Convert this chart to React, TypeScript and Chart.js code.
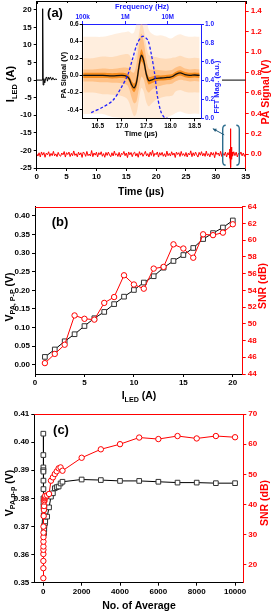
import React, { useEffect, useRef } from 'react';
import { Chart, registerables } from 'chart.js';

Chart.register(...registerables);

const FONT = '"Liberation Sans", Arial, Helvetica, sans-serif';
const RED = '#ff0000';
const BLUE = '#2020ff';
const BLACK = '#000000';
const TEAL = '#2c6d8e';

// ---------------- Panel (a): main traces ----------------
const A_X_TICKS = [0, 5, 10, 15, 20, 25, 30, 35];
const A_ILED_TICKS = [-25, -20, -15, -10, -5, 0, 5, 10, 15, 20];
const A_PA_TICKS = [0, 0.2, 0.4, 0.6, 0.8, 1.0, 1.2, 1.4];

const A_ILED_TIME = [0, 0.95, 1.0, 1.08, 1.2, 1.35, 1.5, 1.65, 1.8, 1.95, 2.1, 2.3, 2.5, 2.7, 2.9, 3.2, 3.6, 35];
const A_ILED_AMP = [0, 0, 20.3, -1.4, 0.4, -0.8, 0.5, 0.9, -0.3, 0.8, 0.2, 0.9, 0.0, 0.7, 0.1, 0.3, 0, 0];

const A_PA_STEP = 0.2; // µs between noise samples
const A_PA_NOISE_MV = [
  6, -18, 14, -27, 22, -9, 17, -30, 10, -5, 24, -21, 8, -14, 28, -16, 3, -24, 18, -11,
  -20, 12, -6, 26, -28, 15, -3, 21, -23, 9, -15, 32, -12, 5, -26, 20, -8, 14, -31, 22,
  9, -21, 27, -14, 2, -18, 36, -24, 12, -9, 20, -27, 15, -5, 24, -20, 6, -30, 17, -12,
  21, -8, -25, 14, -17, 30, -10, 5, -22, 18, -28, 9, -3, 27, -15, 12, -33, 22, -6, 17,
  -24, 10, 20, -18, 8, -30, 25, -9, 14, -21, 3, 28, -17, 6, -27, 20, -12, 38, -22, 9,
  -5, 22, -28, 15, -10, 18, -20, 5, -25, 30, -14, 8, -18, 24, -9, 12, -32, 21, -3, 15,
  -22, 27, -12, 6, -20, 17, -27, 10, -8, 33, -24, 14, -15, 21, -6, -28, 18, -10, 25, -17,
  9, -21, 30, -14, 5, -26, 20, -9, 15, -34, 24, -3, 12, -18, 28, -22, 8, -12, 21, -27,
  14, -8,
];
const A_PA_BURST_TIME = [32.25, 32.3, 32.35, 32.4, 32.45, 32.5, 32.55, 32.6, 32.65, 32.7, 32.75];
const A_PA_BURST_V = [0.02, -0.04, 0.05, -0.06, 0.25, -0.13, 0.07, -0.05, 0.03, -0.03, 0.02];
const A_PA_TAIL_START = 32.8;
const A_PA_TAIL_MV = [-18, 24, -14, 20, -27, 11, -6, 22, -16, 12, -21, 8];

// bracket / arrow annotation (data units: µs, V)
const A_BRACKET_T = [31.15, 33.93];
const A_BRACKET_V = [0.283, -0.107];
const A_ARROW_FROM = [31.4, 0.19];
const A_ARROW_TO = [29.5, 0.25];

// ---------------- Panel (a): inset ----------------
const IN_X_TICKS = [16.5, 17.0, 17.5, 18.0, 18.5];
const IN_Y_TICKS = [-0.4, -0.2, 0, 0.2, 0.4, 0.6];
const IN_FFT_TICKS = [0, 0.2, 0.4, 0.6, 0.8, 1.0];
const IN_FREQ_TICKS = [1e5, 1e6, 1e7];
const IN_FREQ_LABELS = ['100k', '1M', '10M'];

const IN_TIME = [16.2, 16.4, 16.6, 16.8, 17.0, 17.1, 17.15, 17.2, 17.25, 17.3, 17.35, 17.4, 17.45, 17.5, 17.55, 17.6, 17.7, 17.8, 17.9, 18.0, 18.05, 18.1, 18.2, 18.3, 18.4, 18.5, 18.6];
const IN_MEAN = [0, 0, 0, -0.005, 0, -0.01, -0.04, -0.11, -0.145, -0.08, 0.1, 0.235, 0.17, 0.02, -0.06, -0.055, -0.035, -0.03, -0.025, -0.02, -0.01, 0.01, 0.03, 0.01, 0, 0.005, 0];
const IN_SPREAD_OUTER = [0.45, 0.45, 0.45, 0.48, 0.5, 0.52, 0.55, 0.6, 0.65, 0.7, 0.75, 0.75, 0.7, 0.65, 0.6, 0.55, 0.5, 0.5, 0.48, 0.45, 0.45, 0.45, 0.45, 0.45, 0.45, 0.45, 0.45];
const IN_SPREAD_WIDE = [0.2, 0.2, 0.22, 0.22, 0.24, 0.26, 0.28, 0.3, 0.33, 0.36, 0.38, 0.38, 0.36, 0.33, 0.3, 0.28, 0.25, 0.23, 0.22, 0.22, 0.22, 0.2, 0.2, 0.2, 0.2, 0.2, 0.2];
const IN_SPREAD_MID = [0.07, 0.07, 0.08, 0.08, 0.09, 0.1, 0.12, 0.15, 0.18, 0.22, 0.25, 0.25, 0.22, 0.18, 0.14, 0.12, 0.1, 0.09, 0.08, 0.08, 0.08, 0.08, 0.08, 0.07, 0.07, 0.07, 0.07];
const IN_SPREAD_CORE = [0.03, 0.03, 0.03, 0.03, 0.03, 0.03, 0.035, 0.045, 0.05, 0.06, 0.07, 0.07, 0.06, 0.05, 0.045, 0.04, 0.035, 0.03, 0.03, 0.03, 0.03, 0.03, 0.03, 0.03, 0.03, 0.03, 0.03];

const IN_FFT_FREQ = [1.58e5, 2.95e5, 5.13e5, 7.94e5, 1.15e6, 1.51e6, 1.95e6, 2.57e6, 3.39e6, 4.07e6, 4.9e6, 5.75e6, 6.92e6, 8.3e6, 1.0e7];
const IN_FFT_MAG = [0.06, 0.117, 0.19, 0.32, 0.46, 0.64, 0.8, 0.87, 0.83, 0.69, 0.48, 0.23, 0.07, 0.01, 0.0];

// ---------------- Panel (b) ----------------
const B_X_TICKS = [0, 5, 10, 15, 20];
const B_V_TICKS = [0, 0.05, 0.1, 0.15, 0.2, 0.25, 0.3, 0.35, 0.4];
const B_SNR_TICKS = [44, 46, 48, 50, 52, 54, 56, 58, 60, 62, 64];
const B_ILED = [1, 2, 3, 4, 5, 6, 7, 8, 9, 10, 11, 12, 13, 14, 15, 16, 17, 18, 19, 20];
const B_VPP = [0.021, 0.041, 0.063, 0.082, 0.104, 0.125, 0.142, 0.163, 0.183, 0.201, 0.221, 0.238, 0.261, 0.279, 0.295, 0.314, 0.338, 0.354, 0.369, 0.388];
const B_SNR = [45.3, 46.4, 47.5, 51.0, 50.6, 50.5, 52.5, 53.2, 55.8, 54.7, 54.2, 56.6, 56.8, 59.5, 59.0, 57.9, 60.7, 60.6, 60.9, 61.9];

// ---------------- Panel (c) ----------------
const C_X_TICKS = [0, 2000, 4000, 6000, 8000, 10000];
const C_V_TICKS = [0.35, 0.36, 0.37, 0.38, 0.39, 0.4, 0.41];
const C_SNR_TICKS = [20, 30, 40, 50, 60, 70];
const C_N = [1, 2, 3, 4, 5, 6, 7, 8, 9, 10, 20, 30, 40, 50, 60, 70, 80, 90, 100, 200, 300, 400, 500, 600, 700, 800, 900, 1000, 2000, 3000, 4000, 5000, 6000, 7000, 8000, 9000, 10000];
const C_VPP = [0.403, 0.3954, 0.391, 0.39, 0.3895, 0.3863, 0.3833, 0.38, 0.3785, 0.377, 0.374, 0.37, 0.3676, 0.369, 0.3705, 0.3715, 0.372, 0.3712, 0.3718, 0.3735, 0.3768, 0.3806, 0.3818, 0.3836, 0.384, 0.3842, 0.3853, 0.3859, 0.3867, 0.3865, 0.3862, 0.3862, 0.3859, 0.3856, 0.3856, 0.3854, 0.3854];
const C_SNR = [15.6, 18.9, 21.3, 23.6, 25.0, 26.1, 27.7, 29.2, 30.7, 32.7, 36.2, 38.2, 39.5, 41.0, 41.5, 42.0, 42.3, 42.6, 42.9, 43.0, 43.5, 47.9, 49.0, 50.1, 51.0, 52.0, 52.3, 51.2, 55.5, 58.3, 60.0, 62.2, 61.7, 62.7, 61.9, 62.7, 62.3];

// ---------------- helpers ----------------
type Pt = { x: number; y: number };
const zip = (xs: number[], ys: number[]): Pt[] => xs.map((x, i) => ({ x, y: ys[i] }));

function paPoints(): Pt[] {
  const pts: Pt[] = A_PA_NOISE_MV.map((mv, i) => ({ x: i * A_PA_STEP, y: mv / 1000 }));
  A_PA_BURST_TIME.forEach((t, i) => pts.push({ x: t, y: A_PA_BURST_V[i] }));
  A_PA_TAIL_MV.forEach((mv, i) => pts.push({ x: A_PA_TAIL_START + i * A_PA_STEP, y: mv / 1000 }));
  return pts;
}

function fixedTicks(values: number[]) {
  return (scale: any) => {
    scale.ticks = values.map((value) => ({ value }));
  };
}

type AxisOpt = {
  pos: 'left' | 'right' | 'top' | 'bottom';
  min: number;
  max: number;
  ticks: number[];
  color: string;
  size: number;
  fmt: (v: number) => string;
  thick: number;
  pad?: number;
  type?: string;
};

function axis(o: AxisOpt): any {
  const vertical = o.pos === 'left' || o.pos === 'right';
  return {
    type: o.type || 'linear',
    position: o.pos,
    min: o.min,
    max: o.max,
    afterBuildTicks: fixedTicks(o.ticks),
    afterFit: (s: any) => {
      if (vertical) s.width = o.thick;
      else s.height = o.thick;
      s.paddingTop = 0;
      s.paddingBottom = 0;
      s.paddingLeft = 0;
      s.paddingRight = 0;
    },
    grid: { display: true, drawOnChartArea: false, drawTicks: true, tickLength: 3, color: o.color, tickColor: o.color, tickWidth: 1 },
    border: { display: true, color: o.color, width: 1 },
    ticks: {
      color: o.color,
      autoSkip: false,
      maxRotation: 0,
      minRotation: 0,
      padding: o.pad ?? 2,
      font: { family: FONT, size: o.size, weight: 'bold' },
      callback: (v: any) => o.fmt(Number(v)),
    },
    title: { display: false },
  };
}

type Part = { t: string; sub?: boolean };
type Label = { parts: Part[]; x: number; y: number; rot?: boolean; size: number; color: string };

function drawText(ctx: CanvasRenderingContext2D, l: Label) {
  const subSize = l.size * 0.68;
  ctx.save();
  ctx.translate(l.x, l.y);
  if (l.rot) ctx.rotate(-Math.PI / 2);
  ctx.fillStyle = l.color;
  ctx.textBaseline = 'middle';
  ctx.textAlign = 'left';
  const widths = l.parts.map((p) => {
    ctx.font = `bold ${p.sub ? subSize : l.size}px ${FONT}`;
    return ctx.measureText(p.t).width;
  });
  let x = -widths.reduce((a, b) => a + b, 0) / 2;
  l.parts.forEach((p, i) => {
    ctx.font = `bold ${p.sub ? subSize : l.size}px ${FONT}`;
    ctx.fillText(p.t, x, p.sub ? l.size * 0.32 : 0);
    x += widths[i];
  });
  ctx.restore();
}

function deco(opts: {
  labels: Label[];
  topColor?: string;
  topTicks?: boolean;
  extra?: (chart: any) => void;
  bg?: (chart: any) => void;
}): any {
  return {
    id: 'deco',
    beforeDraw(chart: any) {
      if (opts.bg) opts.bg(chart);
    },
    afterDraw(chart: any) {
      const ctx: CanvasRenderingContext2D = chart.ctx;
      const a = chart.chartArea;
      ctx.save();
      if (opts.topColor) {
        ctx.strokeStyle = opts.topColor;
        ctx.lineWidth = 1;
        ctx.beginPath();
        ctx.moveTo(a.left, Math.round(a.top) + 0.5);
        ctx.lineTo(a.right, Math.round(a.top) + 0.5);
        ctx.stroke();
        if (opts.topTicks) {
          const xs = chart.scales.x;
          ctx.beginPath();
          xs.ticks.forEach((t: any) => {
            const px = Math.round(xs.getPixelForValue(t.value)) + 0.5;
            ctx.moveTo(px, a.top);
            ctx.lineTo(px, a.top + 3);
          });
          ctx.stroke();
        }
      }
      if (opts.extra) opts.extra(chart);
      opts.labels.forEach((l) => drawText(ctx, l));
      ctx.restore();
    },
  };
}

const baseOptions = (padTop: number): any => ({
  responsive: false,
  animation: false,
  devicePixelRatio: 1,
  events: [],
  layout: { padding: { top: padTop, left: 0, right: 0, bottom: 0 } },
  plugins: { legend: { display: false }, tooltip: { enabled: false } },
});

// ---------------- configs ----------------
function configA(): any {
  const drawAnnot = (chart: any) => {
    const ctx: CanvasRenderingContext2D = chart.ctx;
    const xs = chart.scales.x;
    const ys = chart.scales.y2;
    const yT = ys.getPixelForValue(A_BRACKET_V[0]);
    const yB = ys.getPixelForValue(A_BRACKET_V[1]);
    const xl = xs.getPixelForValue(A_BRACKET_T[0]);
    const xr = xs.getPixelForValue(A_BRACKET_T[1]);
    ctx.strokeStyle = TEAL;
    ctx.lineWidth = 1.4;
    ctx.beginPath();
    ctx.moveTo(xl + 3, yT);
    ctx.quadraticCurveTo(xl, yT, xl, yT + 4);
    ctx.lineTo(xl, yB - 4);
    ctx.quadraticCurveTo(xl, yB, xl + 3, yB);
    ctx.moveTo(xr - 3, yT);
    ctx.quadraticCurveTo(xr, yT, xr, yT + 4);
    ctx.lineTo(xr, yB - 4);
    ctx.quadraticCurveTo(xr, yB, xr - 3, yB);
    ctx.stroke();
    // arrow
    const x0 = xs.getPixelForValue(A_ARROW_FROM[0]);
    const y0 = ys.getPixelForValue(A_ARROW_FROM[1]);
    const x1 = xs.getPixelForValue(A_ARROW_TO[0]);
    const y1 = ys.getPixelForValue(A_ARROW_TO[1]);
    ctx.strokeStyle = '#1f5a7a';
    ctx.fillStyle = '#1f5a7a';
    ctx.lineWidth = 1;
    ctx.beginPath();
    ctx.moveTo(x0, y0);
    ctx.lineTo(x1, y1);
    ctx.stroke();
    const ang = Math.atan2(y1 - y0, x1 - x0);
    ctx.beginPath();
    ctx.moveTo(x1, y1);
    ctx.lineTo(x1 - 4 * Math.cos(ang - 0.45), y1 - 4 * Math.sin(ang - 0.45));
    ctx.lineTo(x1 - 4 * Math.cos(ang + 0.45), y1 - 4 * Math.sin(ang + 0.45));
    ctx.closePath();
    ctx.fill();
  };
  return {
    type: 'line',
    data: {
      datasets: [
        { data: zip(A_ILED_TIME, A_ILED_AMP), xAxisID: 'x', yAxisID: 'y', borderColor: BLACK, borderWidth: 1, pointRadius: 0, order: 0 },
        { data: paPoints(), xAxisID: 'x', yAxisID: 'y2', borderColor: RED, borderWidth: 1, pointRadius: 0, order: 1 },
      ],
    },
    options: {
      ...baseOptions(1),
      scales: {
        x: axis({ pos: 'bottom', min: 0, max: 35, ticks: A_X_TICKS, color: BLACK, size: 8, fmt: (v) => String(v), thick: 32, pad: 1 }),
        y: axis({ pos: 'left', min: -25, max: 22.5, ticks: A_ILED_TICKS, color: BLACK, size: 8, fmt: (v) => String(v), thick: 36.7 }),
        y2: axis({ pos: 'right', min: -0.135, max: 1.5, ticks: A_PA_TICKS, color: RED, size: 8, fmt: (v) => v.toFixed(1), thick: 29.3 }),
      },
    },
    plugins: [
      deco({
        topColor: BLACK,
        topTicks: true,
        extra: drawAnnot,
        labels: [
          { parts: [{ t: 'I' }, { t: 'LED', sub: true }, { t: ' (A)' }], x: 11, y: 84, rot: true, size: 11, color: BLACK },
          { parts: [{ t: 'PA Signal (V)' }], x: 266, y: 92, rot: true, size: 10.5, color: RED },
          { parts: [{ t: 'Time (µs)' }], x: 141, y: 192, size: 10.5, color: BLACK },
          { parts: [{ t: '(a)' }], x: 55, y: 13, size: 13, color: BLACK },
        ],
      }),
    ],
  };
}

function configInset(): any {
  const bands: [number[], string, number][] = [
    [IN_SPREAD_OUTER, 'rgba(255,206,160,0.35)', 9],
    [IN_SPREAD_WIDE, 'rgba(255,185,120,0.35)', 8],
    [IN_SPREAD_MID, 'rgba(255,160,70,0.45)', 7],
    [IN_SPREAD_CORE, 'rgba(245,135,20,0.9)', 6],
  ];
  const datasets: any[] = [];
  bands.forEach(([hw, color, ord]) => {
    datasets.push({
      data: IN_TIME.map((t, i) => ({ x: t, y: IN_MEAN[i] + hw[i] })),
      xAxisID: 'x', yAxisID: 'y', borderWidth: 0, borderColor: 'transparent', pointRadius: 0, fill: false, order: ord, tension: 0.3,
    });
    datasets.push({
      data: IN_TIME.map((t, i) => ({ x: t, y: IN_MEAN[i] - hw[i] })),
      xAxisID: 'x', yAxisID: 'y', borderWidth: 0, borderColor: 'transparent', pointRadius: 0, fill: '-1', backgroundColor: color, order: ord, tension: 0.3,
    });
  });
  datasets.push({ data: zip(IN_TIME, IN_MEAN), xAxisID: 'x', yAxisID: 'y', borderColor: '#111', borderWidth: 1.3, pointRadius: 0, tension: 0.35, order: 2 });
  datasets.push({ data: zip(IN_FFT_FREQ, IN_FFT_MAG), xAxisID: 'xf', yAxisID: 'yf', borderColor: BLUE, borderWidth: 1.3, borderDash: [3, 2], pointRadius: 0, tension: 0.3, order: 1 });

  return {
    type: 'line',
    data: { datasets },
    options: {
      ...baseOptions(0),
      scales: {
        x: axis({ pos: 'bottom', min: 16.19, max: 18.63, ticks: IN_X_TICKS, color: BLACK, size: 6.5, fmt: (v) => v.toFixed(1), thick: 21.7, pad: 1 }),
        xf: axis({ pos: 'top', type: 'logarithmic', min: 1e5, max: 6.07e7, ticks: IN_FREQ_TICKS, color: BLUE, size: 6.5, fmt: (v) => IN_FREQ_LABELS[IN_FREQ_TICKS.findIndex((f) => Math.abs(f - v) < 1)] || '', thick: 21, pad: 0 }),
        y: axis({ pos: 'left', min: -0.5, max: 0.6, ticks: IN_Y_TICKS, color: BLACK, size: 6.5, fmt: (v) => v.toFixed(1), thick: 25.7, pad: 1 }),
        yf: axis({ pos: 'right', min: 0, max: 1.0, ticks: IN_FFT_TICKS, color: BLUE, size: 6.5, fmt: (v) => v.toFixed(1), thick: 21, pad: 1 }),
      },
    },
    plugins: [
      deco({
        bg: (chart: any) => {
          const ctx: CanvasRenderingContext2D = chart.ctx;
          const a = chart.chartArea;
          ctx.save();
          ctx.fillStyle = '#ffffff';
          // leave the top-left corner open so the panel label "(a)" stays visible
          ctx.fillRect(8, 0, chart.width - 8, a.bottom + 1);
          ctx.fillRect(0, 30, 8, a.bottom + 1 - 30);
          ctx.fillRect(0, a.bottom, a.right + 6, chart.height - a.bottom);
          ctx.restore();
        },
        labels: [
          { parts: [{ t: 'Frequency (Hz)' }], x: 85, y: 4, size: 7.5, color: BLUE },
          { parts: [{ t: 'Time (µs)' }], x: 84, y: 130.5, size: 7.5, color: BLACK },
          { parts: [{ t: 'PA Signal (V)' }], x: 6.5, y: 72, rot: true, size: 7.5, color: BLACK },
          { parts: [{ t: 'FFT Mag. (a.u.)' }], x: 159.5, y: 84, rot: true, size: 7.5, color: BLUE },
        ],
      }),
    ],
  };
}

function markerSet(data: Pt[], color: string, edge: string, style: string, r: number, yAxisID: string, order: number): any {
  return {
    data,
    xAxisID: 'x',
    yAxisID,
    borderColor: color,
    borderWidth: 1,
    pointStyle: style,
    pointRadius: r,
    pointBorderColor: edge,
    pointBorderWidth: 1,
    pointBackgroundColor: '#ffffff',
    order,
  };
}

function configB(): any {
  return {
    type: 'line',
    data: {
      datasets: [
        markerSet(zip(B_ILED, B_VPP), BLACK, '#333333', 'rect', 3.3, 'y', 1),
        markerSet(zip(B_ILED, B_SNR), RED, RED, 'circle', 2.7, 'y2', 0),
      ],
    },
    options: {
      ...baseOptions(6.7),
      scales: {
        x: axis({ pos: 'bottom', min: 0, max: 21, ticks: B_X_TICKS, color: BLACK, size: 8, fmt: (v) => String(v), thick: 28, pad: 1 }),
        y: axis({ pos: 'left', min: -0.025, max: 0.425, ticks: B_V_TICKS, color: BLACK, size: 8, fmt: (v) => v.toFixed(2), thick: 35 }),
        y2: axis({ pos: 'right', min: 44, max: 64, ticks: B_SNR_TICKS, color: RED, size: 8, fmt: (v) => String(v), thick: 32.3 }),
      },
    },
    plugins: [
      deco({
        topColor: RED,
        labels: [
          { parts: [{ t: 'V' }, { t: 'PA, P-P', sub: true }, { t: ' (V)' }], x: 10, y: 97, rot: true, size: 10.5, color: BLACK },
          { parts: [{ t: 'SNR (dB)' }], x: 263, y: 86, rot: true, size: 10.5, color: RED },
          { parts: [{ t: 'I' }, { t: 'LED', sub: true }, { t: ' (A)' }], x: 139, y: 196.5, size: 10.5, color: BLACK },
          { parts: [{ t: '(b)' }], x: 60, y: 22, size: 13, color: BLACK },
        ],
      }),
    ],
  };
}

function configC(): any {
  return {
    type: 'line',
    data: {
      datasets: [
        markerSet(zip(C_N, C_VPP), BLACK, '#333333', 'rect', 3.3, 'y', 1),
        markerSet(zip(C_N, C_SNR), RED, RED, 'circle', 2.7, 'y2', 0),
      ],
    },
    options: {
      ...baseOptions(12),
      scales: {
        x: axis({ pos: 'bottom', min: -470, max: 10430, ticks: C_X_TICKS, color: BLACK, size: 8, fmt: (v) => String(v), thick: 29.3, pad: 1 }),
        y: axis({ pos: 'left', min: 0.35, max: 0.41, ticks: C_V_TICKS, color: BLACK, size: 8, fmt: (v) => v.toFixed(2), thick: 34.3 }),
        y2: axis({ pos: 'right', min: 14.1, max: 70, ticks: C_SNR_TICKS, color: RED, size: 8, fmt: (v) => String(v), thick: 31.7 }),
      },
    },
    plugins: [
      deco({
        topColor: RED,
        labels: [
          { parts: [{ t: 'V' }, { t: 'PA,p-p', sub: true }, { t: ' (V)' }], x: 10, y: 91, rot: true, size: 10.5, color: BLACK },
          { parts: [{ t: 'SNR (dB)' }], x: 265, y: 101, rot: true, size: 10.5, color: RED },
          { parts: [{ t: 'No. of Average' }], x: 139, y: 204.5, size: 10.5, color: BLACK },
          { parts: [{ t: '(c)' }], x: 61, y: 28, size: 13, color: BLACK },
        ],
      }),
    ],
  };
}

export default function App() {
  const refA = useRef<HTMLCanvasElement>(null);
  const refI = useRef<HTMLCanvasElement>(null);
  const refB = useRef<HTMLCanvasElement>(null);
  const refC = useRef<HTMLCanvasElement>(null);

  useEffect(() => {
    const charts = [
      new Chart(refA.current as HTMLCanvasElement, configA()),
      new Chart(refI.current as HTMLCanvasElement, configInset()),
      new Chart(refB.current as HTMLCanvasElement, configB()),
      new Chart(refC.current as HTMLCanvasElement, configC()),
    ];
    return () => charts.forEach((c) => c.destroy());
  }, []);

  return (
    <div style={{ position: 'fixed', left: 0, top: 0, width: 275, height: 612, background: '#ffffff', overflow: 'hidden' }}>
      <canvas ref={refA} width={275} height={200} style={{ position: 'absolute', left: 0, top: 0, width: 275, height: 200 }} />
      <canvas ref={refI} width={165} height={137} style={{ position: 'absolute', left: 57, top: 3, width: 165, height: 137 }} />
      <canvas ref={refB} width={275} height={202} style={{ position: 'absolute', left: 0, top: 200, width: 275, height: 202 }} />
      <canvas ref={refC} width={275} height={210} style={{ position: 'absolute', left: 0, top: 402, width: 275, height: 210 }} />
    </div>
  );
}
